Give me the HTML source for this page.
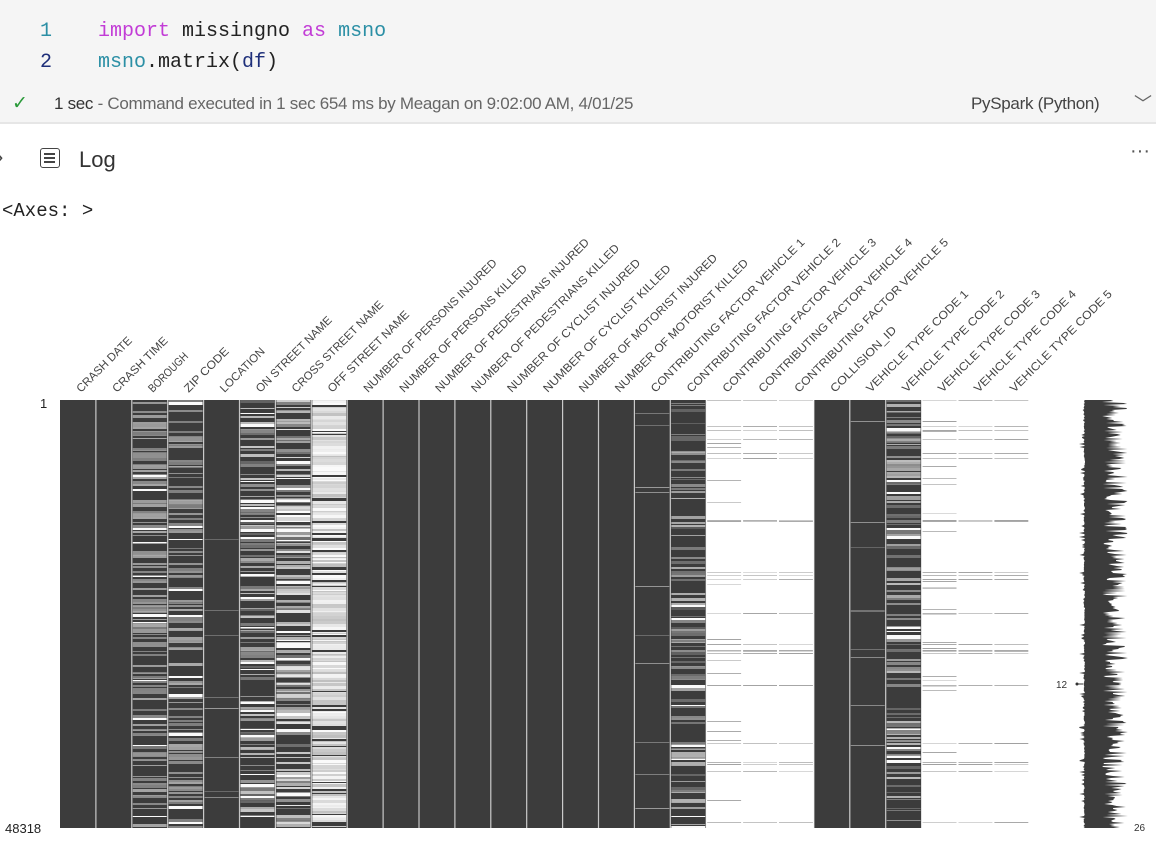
<!DOCTYPE html>
<html><head><meta charset="utf-8"><style>
html,body{margin:0;padding:0;background:#fff;width:1156px;height:842px;overflow:hidden;position:relative;font-family:"Liberation Sans",sans-serif}
.top{position:absolute;left:0;top:0;width:1156px;height:122px;background:#f5f5f5;border-bottom:2px solid #e6e6e6}
.mono{font-family:"Liberation Mono",monospace}
.abs{position:absolute;white-space:nowrap}
</style></head><body>
<div class="top">
<div class="abs mono" style="left:40px;top:20px;font-size:20px;color:#2b8fa5">1</div>
<div class="abs mono" style="left:98px;top:20px;font-size:20px;color:#222"><span style="color:#c23cd6">import</span> missingno <span style="color:#c23cd6">as</span> <span style="color:#2b8fa5">msno</span></div>
<div class="abs mono" style="left:40px;top:51px;font-size:20px;color:#1e2f7a">2</div>
<div class="abs mono" style="left:98px;top:51px;font-size:20px;color:#222"><span style="color:#2b8fa5">msno</span>.matrix(<span style="color:#1e2f7a">df</span>)</div>
<div class="abs" style="left:12px;top:92px;font-size:19px;color:#2a9a3a">✓</div>
<div class="abs" style="left:54px;top:94px;font-size:17px;color:#666;letter-spacing:-0.3px"><span style="color:#333">1 sec</span> - Command executed in 1 sec 654 ms by Meagan on 9:02:00 AM, 4/01/25</div>
<div class="abs" style="left:971px;top:94px;font-size:17px;color:#444;letter-spacing:-0.3px">PySpark (Python)</div>
<div class="abs" style="left:1134px;top:90px;font-size:18px;color:#666">﹀</div>
</div>
<div class="abs" style="left:-4px;top:144px;font-size:22px;color:#444">›</div>
<div class="abs" style="left:40px;top:148px;width:20px;height:20px;border:1.5px solid #444;border-radius:3px;box-sizing:border-box"></div>
<div class="abs" style="left:44px;top:153px;width:11px;height:1.5px;background:#444;box-shadow:0 4px 0 #444,0 8px 0 #444"></div>
<div class="abs" style="left:79px;top:147px;font-size:22px;color:#333">Log</div>
<div class="abs" style="left:1130px;top:140px;font-size:20px;color:#555">···</div>
<div class="abs mono" style="left:2px;top:200px;font-size:19px;color:#222">&lt;Axes: &gt;</div>
<svg id="s" width="1156" height="842" style="position:absolute;left:0;top:0"></svg>
<script>
var labels=["CRASH DATE","CRASH TIME","BOROUGH","ZIP CODE","LOCATION","ON STREET NAME","CROSS STREET NAME","OFF STREET NAME","NUMBER OF PERSONS INJURED","NUMBER OF PERSONS KILLED","NUMBER OF PEDESTRIANS INJURED","NUMBER OF PEDESTRIANS KILLED","NUMBER OF CYCLIST INJURED","NUMBER OF CYCLIST KILLED","NUMBER OF MOTORIST INJURED","NUMBER OF MOTORIST KILLED","CONTRIBUTING FACTOR VEHICLE 1","CONTRIBUTING FACTOR VEHICLE 2","CONTRIBUTING FACTOR VEHICLE 3","CONTRIBUTING FACTOR VEHICLE 4","CONTRIBUTING FACTOR VEHICLE 5","COLLISION_ID","VEHICLE TYPE CODE 1","VEHICLE TYPE CODE 2","VEHICLE TYPE CODE 3","VEHICLE TYPE CODE 4","VEHICLE TYPE CODE 5"];
var T=["f","f",["s",.55,120,170],["s",.55,120,170],"d",["s",.55,90,200],["s",.45,110,230],["s",.15,190,250],"f","f","f","f","f","f","f","f","d",["s",.6,90,180],"w1","w2","w2","f","d",["s",.55,100,190],"w1","w2","w2"];
var seed=11;function r(){seed=(seed*16807)%2147483647;return (seed-1)/2147483646;}
var x0=60,W=35.9,y0=400,y1=828,H=y1-y0;
var o=[];
var shared=[];for(var y=0;y<H;y++)shared.push(r());
function line(x,y,h,g){o.push('<rect x="'+(x+1).toFixed(1)+'" y="'+(y0+y)+'" width="'+(W-2).toFixed(1)+'" height="'+h+'" fill="rgb('+g+','+g+','+g+')"/>');}
for(var c=0;c<27;c++){
 var x=x0+c*W,t=T[c];
 var dark=(t=="f"||t=="d"||t[0]=="s");
 o.push('<rect x="'+x.toFixed(1)+'" y="'+y0+'" width="'+W.toFixed(1)+'" height="'+H+'" fill="'+(dark?'#3c3c3c':'#fff')+'"/>');
 if(t=="f")continue;
 if(t=="d"){for(var y=0;y<H;y++){if(r()<.025)line(x,y,1,100+Math.floor(r()*60));}continue;}
 if(t=="w1"||t=="w2"){
  for(var y=0;y<H;y++){var q=t=="w1"?(shared[y]<.03||r()<.04):shared[y]<.03;
   if(q)line(x,y,1,160+Math.floor(r()*60));}
  continue;}
 var p=t[1],lo=t[2],hi=t[3],y=0;
 while(y<H){var L=1+Math.floor(r()*2.5);if(y+L>H)L=H-y;
  if(r()>=p){var g=lo+Math.floor(r()*(hi-lo));if(r()<.12)g=250;line(x,y,L,g);}
  y+=L;}
}
for(var c=1;c<27;c++){var x=x0+c*W;o.push('<rect x="'+(x-0.6).toFixed(1)+'" y="'+y0+'" width="1.2" height="'+H+'" fill="#fff" opacity="0.7"/>');}
for(var c=0;c<27;c++){var cx=x0+c*W+W/2+3;o.push('<text x="'+cx.toFixed(1)+'" y="393" transform="rotate(-45 '+cx.toFixed(1)+' 393)" font-size="11.5" fill="#444" font-family="Liberation Sans,sans-serif" textLength="'+(labels[c].length*7.3).toFixed(0)+'" lengthAdjust="spacingAndGlyphs">'+labels[c]+'</text>');}
var pts=[],lp=[];
for(var y=0;y<=H;y+=1){var xr=1102+r()*12;if(r()<.55)xr=1112+r()*16;pts.push(xr.toFixed(1)+','+(y0+y));var xl=1085-(r()<.2?r()*6:r()*1.5);lp.push(xl.toFixed(1)+','+(y0+y));}
lp.reverse();
o.push('<polygon points="'+pts.join(' ')+' '+lp.join(' ')+'" fill="#3c3c3c"/>');
o.push('<text x="40" y="408" font-size="13" fill="#222">1</text>');
o.push('<text x="5" y="833" font-size="13" fill="#222">48318</text>');
o.push('<text x="1056" y="688" font-size="10" fill="#333">12</text><circle cx="1077" cy="684" r="1.5" fill="#333"/><line x1="1077" y1="684" x2="1083" y2="684" stroke="#333"/>');
o.push('<text x="1134" y="831" font-size="10" fill="#333">26</text>');
document.getElementById('s').innerHTML=o.join('');
</script>
</body></html>
